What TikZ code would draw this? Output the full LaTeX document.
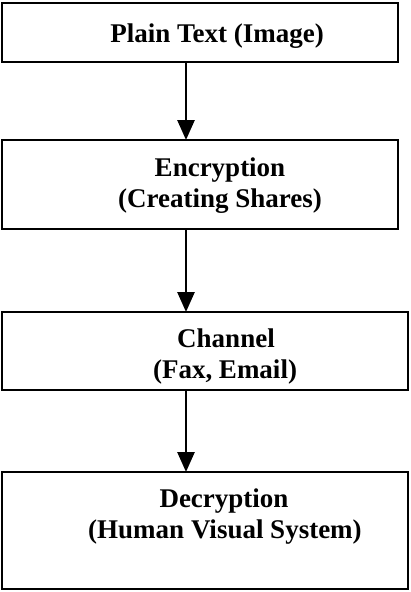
\documentclass[tikz,border=0pt]{standalone}
\usepackage{fontspec}
\setmainfont{Liberation Serif}
\usetikzlibrary{arrows.meta}
\tikzset{
  box/.style={draw,line width=2.7pt,inner sep=0pt,outer sep=0pt},
  lbl/.style={anchor=base,inner sep=0pt,font=\bfseries\fontsize{27}{31}\selectfont},
  flow/.style={line width=2.7pt,-{Triangle[length=20pt,width=17pt]}}
}
\begin{document}
\begin{tikzpicture}[x=1pt,y=-1pt]
      \useasboundingbox(0,0)rectangle(410,592);
      \node[box,minimum width=396pt,minimum height=59pt](plain)at(200,32.5){};
      \node[box,minimum width=396pt,minimum height=89pt](enc)at(200,184.5){};
      \node[box,minimum width=406pt,minimum height=78pt](chan)at(205,351){};
      \node[box,minimum width=406pt,minimum height=117pt](dec)at(205,530.5){};
      \node[lbl](plaintxt)at(217,42){Plain Text (Image)};
      \node[lbl](enctxt)at(220,176){Encryption};
      \node[lbl](encsub)at(220,207){(Creating Shares)};
      \node[lbl](chantxt)at(226,347){Channel};
      \node[lbl](chansub)at(225,378){(Fax, Email)};
      \node[lbl](dectxt)at(224,507){Decryption};
      \node[lbl](decsub)at(225,538){(Human Visual System)};
      \coordinate(ax)at(186,0);
      \draw[flow](plain.south-|ax)--(enc.north-|ax);
      \draw[flow](enc.south-|ax)--(chan.north-|ax);
      \draw[flow](chan.south-|ax)--(dec.north-|ax);
    \end{tikzpicture}
\end{document}
